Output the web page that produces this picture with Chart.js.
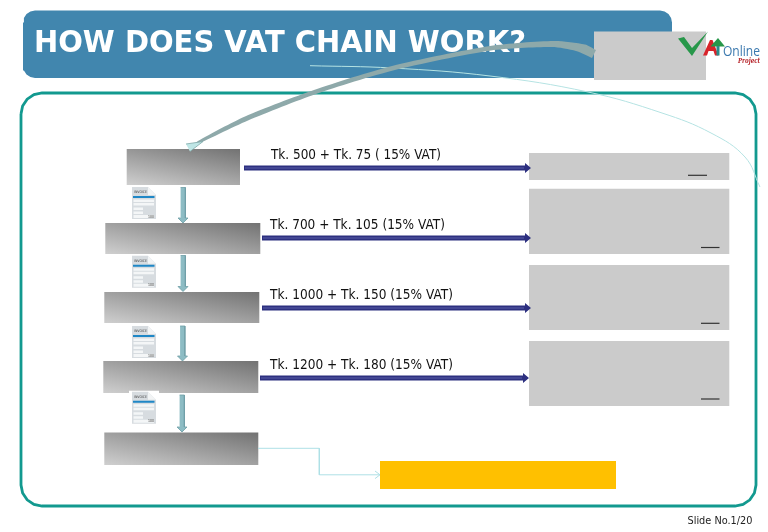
<!DOCTYPE html>
<html><head><meta charset="utf-8">
<style>html,body{margin:0;padding:0;background:#fff}canvas{display:block}</style>
<script src="https://cdn.jsdelivr.net/npm/chart.js@4/dist/chart.umd.js"></script>
</head><body><canvas id="c" width="768" height="532"></canvas>
<script>
// ---- diagram content, in slide units (0..768, 0..532) ----
const titleText = ["HOW DOES VAT CHAIN WORK?"];
const flowLabels = ["Tk. 500 + Tk. 75 ( 15% VAT)","Tk. 700 + Tk. 105 (15% VAT)","Tk. 1000 + Tk. 150 (15% VAT)","Tk. 1200 + Tk. 180 (15% VAT)"];
const flowLabelX = [271,270,270,270];
const flowLabelXEnd = [441,445,453,453];
const flowLabelY = [155,225,295,365];
const slideNo = ["Slide No.1/20"];
const headerBox = [23,10.5,672,78];
const frameBox = [21,93,756,506];
const logoBox = [594,31.5,706,80];
const chainBoxes = [[126.7,149,240,185],[105.3,223,260.3,254],[104.3,292,259.3,323],[103.3,361,258.3,393],[104.3,432.5,258.3,465]];
const resultBoxes = [[529,153,729.3,180],[529,188.7,729.3,254],[529,265,729.3,330],[529,341,729.3,406]];
const resultBars = [[688,707,175.3],[701,719.5,247.5],[701,719.5,323.3],[701,719.5,399]];
const flowArrows = [[244,531,168],[262,531,238],[262,531,308],[260,529,378]];
const downArrows = [[183,187.5,223],[183,255.5,291.5],[182.5,326,361],[182,395,432]];
const invoiceTops = [187,255.7,326,391.7];
const invoiceLeft = [132,132,132,132];
const sweepUpper = [[596,50],[585,44.5],[554,41],[490,46],[392,66],[314,90],[245,116.5],[198,141]];
const sweepLower = [[193,146],[248,120.5],[316,94],[393,70.5],[491,50.5],[552,47],[576,51],[592,58]];
const sweepHead = [[186,144],[203,141.5],[190,151.5]];
const thinCurve = [[310,65.7],[392,68],[490,76],[588,92],[662,113],[711,133],[745,157],[760,187]];
const elbow = [[258,448.3],[319.3,448.3],[319.3,474.8],[380,474.8]];
const elbowHead = [[375,471],[380,474.8],[375,478.6]];
const payBox = [380,461,616,489];
const logoCheck = [[678,38.5],[684,37],[692,48],[708,31.5],[692,56]];
const logoA = [[703,55.5],[710,40],[712.5,40],[718.5,55.5],[715,55.5],[713.5,51],[708.5,51],[707,55.5]];
const logoTHead = [[710.5,46.5],[718,38],[725,46.5]];
const logoTStem = [[716.5,46],[719.5,46],[719.5,55.5],[716.5,55.5]];

// ---- build ----
const cv = document.getElementById('c');
const g2d = cv.getContext('2d');
const datasets = [];
function add(points, o){
  datasets.push(Object.assign({
    data: points.map(p=>({x:p[0],y:p[1]})),
    pointRadius:0, borderWidth:0, borderColor:'transparent', fill:false, tension:0, clip:false
  }, o));
  return datasets.length-1;
}
const rectPts = b => [[b[0],b[1]],[b[2],b[1]],[b[2],b[3]],[b[0],b[3]],[b[0],b[1]]];
const K = [0,.076,.293,.617,1];
function roundPts(b,r){
  const [a,t,c,d]=b, out=[];
  for(let i=0;i<5;i++) out.push([a+r*K[i], t+r*K[4-i]]);
  for(let i=4;i>=0;i--) out.push([c-r*K[i], t+r*K[4-i]]);
  for(let i=0;i<5;i++) out.push([c-r*K[i], d-r*K[4-i]]);
  for(let i=4;i>=0;i--) out.push([a+r*K[i], d-r*K[4-i]]);
  out.push(out[0]);
  return out;
}
const fillShape = (pts,color,extra)=>add(pts,Object.assign({fill:'shape',backgroundColor:color},extra||{}));

const headerIdx = fillShape(roundPts(headerBox,12),'#4186ae');
add(roundPts(frameBox,21),{borderColor:'#12998f',borderWidth:2.8});
add(thinCurve,{borderColor:'#b5e3e3',borderWidth:1,tension:.4});

chainBoxes.forEach(b=>{
  const w=b[2]-b[0], h=b[3]-b[1], s=(.2*w+h)/1.04;
  const gr = g2d.createLinearGradient(b[0],b[3],b[0]+.2*s,b[3]-s);
  gr.addColorStop(0,'#cfcfcf'); gr.addColorStop(1,'#727272');
  fillShape(rectPts(b),gr);
});
resultBoxes.forEach(b=>fillShape(rectPts(b),'#cbcbcb'));
resultBars.forEach(b=>add([[b[0],b[2]],[b[1],b[2]]],{borderColor:'#333333',borderWidth:1.2}));
flowArrows.forEach(a=>{
  const [x0,x1,y]=a;
  fillShape([[x0,y-2.4],[x1-6,y-2.4],[x1-6,y-5],[x1,y],[x1-6,y+5],[x1-6,y+2.4],[x0,y+2.4]],'#2d3080');
  add([[x0+1,y],[x1-7,y]],{borderColor:'#5a5ea8',borderWidth:1});
});
const invoiceShapes = [
  {p:[[-3,-1],[27,-1],[27,35],[-3,35]],c:'#ffffff'},
  {p:[[0,0],[16,0],[24,8],[24,32],[0,32]],c:'#d7dce0'},
  {p:[[16,0],[24,8],[16,8]],c:'#f2f4f5'},
  {p:[[1,9],[22.5,9],[22.5,11],[1,11]],c:'#1f87c6'},
  {p:[[1.5,12.5],[22,12.5],[22,15],[1.5,15]],c:'#f4f6f7'},
  {p:[[1.5,16],[22,16],[22,18.5],[1.5,18.5]],c:'#f4f6f7'},
  {p:[[1.5,20.5],[11,20.5],[11,23],[1.5,23]],c:'#f4f6f7'},
  {p:[[1.5,24.5],[11,24.5],[11,27],[1.5,27]],c:'#f4f6f7'},
  {p:[[1.5,28],[22,28],[22,31],[1.5,31]],c:'#f4f6f7'}
];
invoiceTops.forEach((t,i)=>{
  invoiceShapes.forEach(s=>fillShape(s.p.map(q=>[q[0]+invoiceLeft[i],q[1]+t]),s.c));
});
downArrows.forEach(a=>{
  const [x,y0,y1]=a;
  fillShape([[x-2.4,y0],[x+2.4,y0],[x+2.4,y1-5],[x+5,y1-5],[x,y1],[x-5,y1-5],[x-2.4,y1-5]],'#8dbcc4',{borderColor:'#6f9ea6',borderWidth:.8});
});
add(elbow,{borderColor:'#aee0e6',borderWidth:1});
add(elbowHead,{borderColor:'#aee0e6',borderWidth:1});
fillShape(rectPts(payBox),'#ffc000');
fillShape(rectPts(logoBox),'#cbcbcb');
fillShape(sweepUpper.concat(sweepLower),'#8ea9aa',{tension:.25});
fillShape(sweepHead,'#bfe6e6',{borderColor:'#7fa8a8',borderWidth:.8});
fillShape(logoCheck,'#27974a');
fillShape(logoA,'#d8232a');
fillShape(logoTHead,'#27974a');
fillShape(logoTStem,'#2a8c8a');
datasets.forEach((d,i)=>{d.order=datasets.length-i;});

function txt(ctx,s,x,y,font,color,w,align){
  ctx.save();ctx.font=font;ctx.fillStyle=color;ctx.textBaseline='middle';ctx.textAlign=align||'left';
  w?ctx.fillText(s,x,y,w):ctx.fillText(s,x,y);ctx.restore();
}
const textPlugin = {
  id:'slideText',
  afterDatasetDraw(chart,args){
    if(args.index===headerIdx){
      const X=chart.scales.x,Y=chart.scales.y;
      txt(chart.ctx,titleText[0],X.getPixelForValue(34),Y.getPixelForValue(43.5),'bold 31px "DejaVu Sans"','#ffffff',492);
    }
  },
  afterDatasetsDraw(chart){
    const X=chart.scales.x,Y=chart.scales.y,ctx=chart.ctx;
    flowLabels.forEach((s,i)=>{
      txt(ctx,s,X.getPixelForValue(flowLabelX[i]),Y.getPixelForValue(flowLabelY[i]),'14px "DejaVu Sans"','#111111',flowLabelXEnd[i]-flowLabelX[i]);
    });
    txt(ctx,slideNo[0],X.getPixelForValue(687.5),Y.getPixelForValue(521),'10.5px "DejaVu Sans"','#222222',65);
    txt(ctx,'Online',X.getPixelForValue(723),Y.getPixelForValue(52),'15px "Open Sans"','#3a78ae',37);
    txt(ctx,'Project',X.getPixelForValue(738),Y.getPixelForValue(60.5),'italic bold 8px "DejaVu Serif"','#b8282e',22);
    invoiceTops.forEach((t,i)=>{
      txt(ctx,'INVOICE',X.getPixelForValue(invoiceLeft[i]+2),Y.getPixelForValue(t+5),'3.5px "DejaVu Sans"','#444444',13);
      txt(ctx,'100',X.getPixelForValue(invoiceLeft[i]+16),Y.getPixelForValue(t+29.7),'4px "DejaVu Sans"','#333333',6);
    });
  }
};

new Chart(cv,{
  type:'line',
  data:{datasets},
  options:{
    responsive:false,animation:false,devicePixelRatio:window.devicePixelRatio||1,
    layout:{padding:0},
    plugins:{legend:{display:false},tooltip:{enabled:false},title:{display:false}},
    scales:{
      x:{type:'linear',min:0,max:768,display:false},
      y:{type:'linear',min:0,max:532,reverse:true,display:false}
    }
  },
  plugins:[textPlugin]
});
</script></body></html>
